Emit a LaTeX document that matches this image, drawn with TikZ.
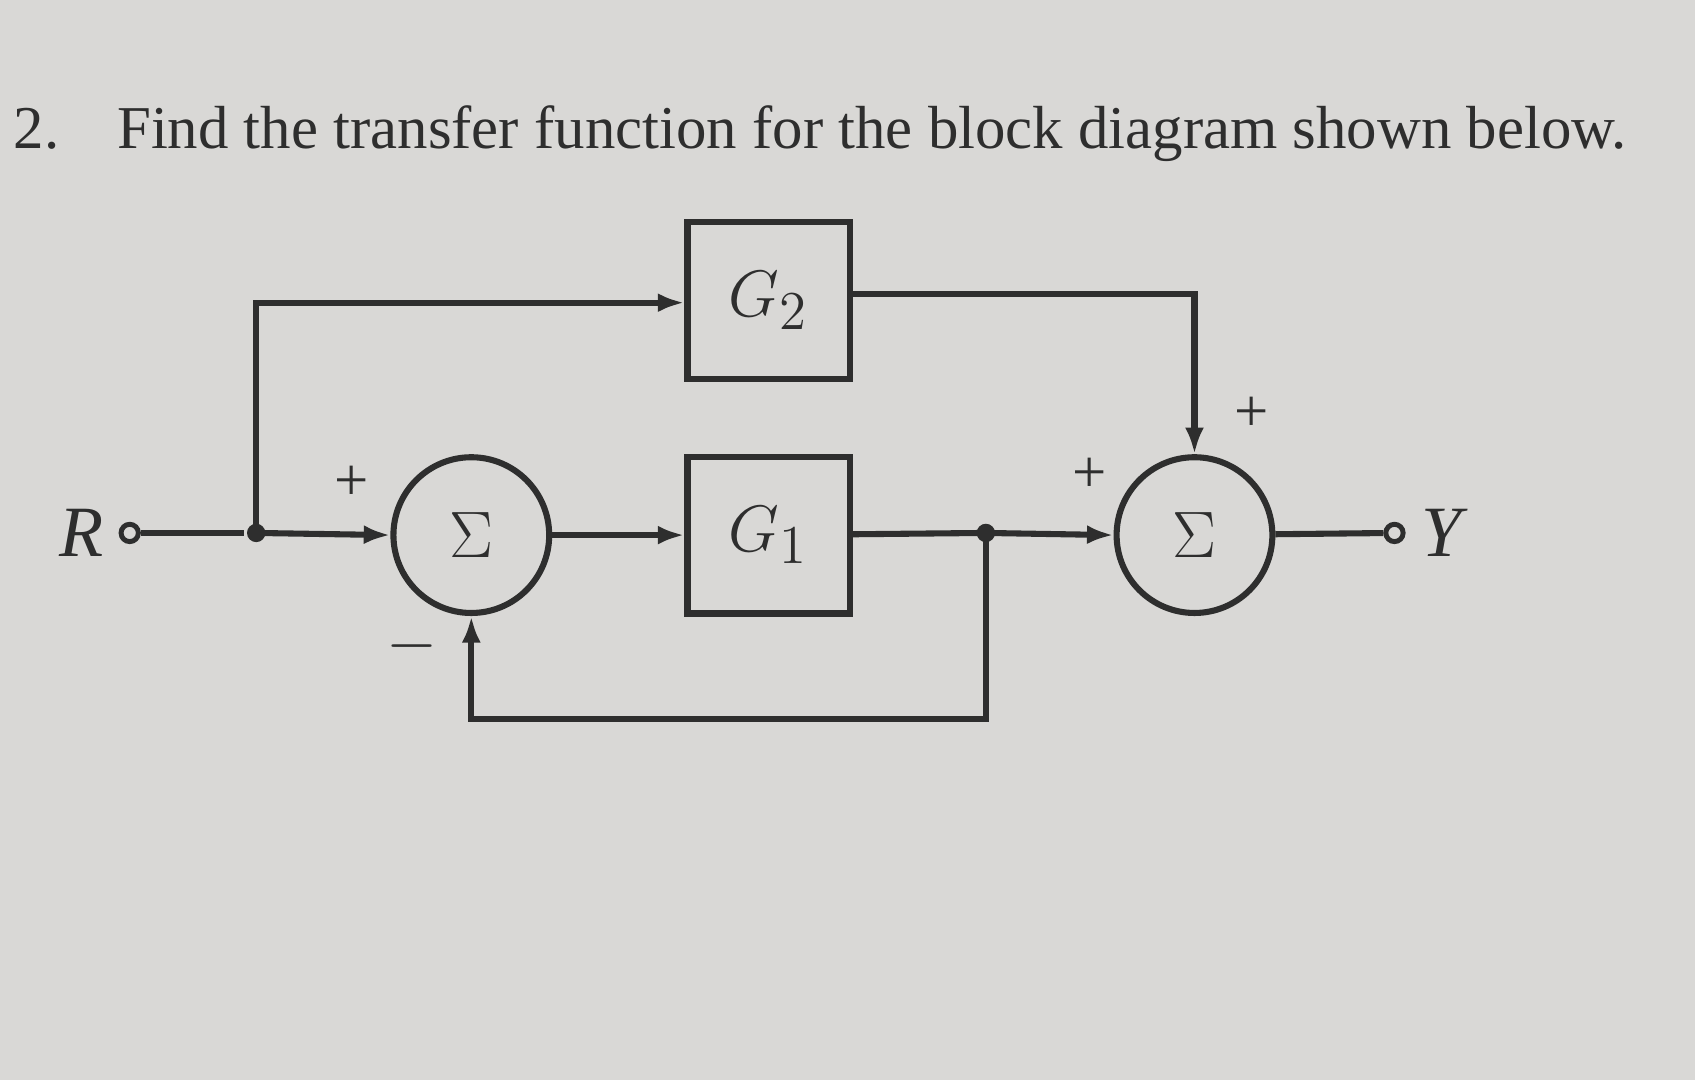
\documentclass[tikz,border=0pt]{standalone}
\usepackage{fontspec}
\setmainfont{Liberation Serif}
\usetikzlibrary{arrows.meta}
\definecolor{bg}{HTML}{D9D8D6}
\definecolor{ink}{HTML}{2E2E2E}
\begin{document}
\begin{tikzpicture}[x=0.01cm,y=-0.01cm,
  line width=1.6pt, draw=ink, text=ink,
  blk/.style={draw, minimum width=1.5cm, minimum height=1.45cm, font=\fontsize{19}{22}\selectfont},
  sumc/.style={draw, circle, minimum size=1.44cm, inner sep=0pt, font=\fontsize{18}{20}\selectfont},
  port/.style={draw, circle, minimum size=0.16cm, inner sep=0pt, line width=1.3pt},
  jdot/.style={fill=ink, circle, minimum size=0.17cm, inner sep=0pt},
  arr/.style={-{Latex[length=7pt,width=5pt]}},
  sgn/.style={font=\fontsize{16}{20}\selectfont}]
\fill[bg] (0,0) rectangle (1568,999);
\useasboundingbox (0,0) rectangle (1568,999);
\node[anchor=base west, font=\fontsize{16}{19}\selectfont, inner sep=0] (title) at (10,137) {2.\hspace{0.95em}Find the transfer function for the block diagram shown below.};
\node[port] (r) at (120,493) {};
\node[anchor=east, font=\itshape\fontsize{19}{22}\selectfont] (rl) at (110,493) {R};
\node[jdot] (j1) at (237,493) {};
\node[sumc] (s1) at (436,495) {$\Sigma$};
\node[blk] (g1) at (711,495) {$G_1$};
\node[blk] (g2) at (711,278) {$G_2$};
\node[jdot] (j2) at (912,493) {};
\node[sumc] (s2) at (1105,495) {$\Sigma$};
\node[port] (y) at (1290,493) {};
\node[anchor=west, font=\itshape\fontsize{19}{22}\selectfont] (yl) at (1300,493) {Y};
\coordinate (c1) at (237,280);
\coordinate (c2) at (1105,272);
\coordinate (c3) at (912,665);
\coordinate (c4) at (436,665);
\draw (r) -- (j1);
\draw[arr] (j1.center) -- (s1.west);
\draw[arr] (s1) -- (g1);
\draw (g1) -- (j2.center);
\draw[arr] (j2.center) -- (s2.west);
\draw (s2) -- (y);
\draw[arr] (j1.center) -- (c1) -- (g2.west |- c1);
\draw[arr] (g2.east |- c2) -- (c2) -- (s2.north);
\draw[arr] (j2.center) -- (c3) -- (c4) -- (s1.south);
\node[sgn] (p1) at (325,447) {+};
\node[sgn] (m1) at (381,598) {$-$};
\node[sgn] (p2) at (1008,440) {+};
\node[sgn] (p3) at (1158,383) {+};
\end{tikzpicture}
\end{document}
